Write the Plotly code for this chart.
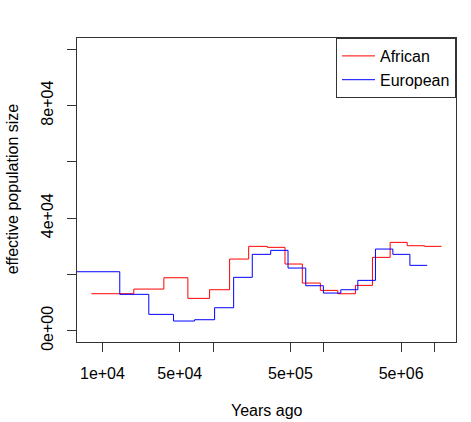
import plotly.graph_objects as go

# step breakpoints (years ago) and effective population size per interval
african_breaks = [7955, 19200, 35880, 59140, 92960, 141000, 209600, 308800, 446400,
                  640200, 931600, 1339000, 1932000, 2754000, 3980000, 5673000,
                  8136000, 11600000]
african_ne = [13150, 14800, 18830, 11500, 14570, 25470, 29980, 29630, 23700,
              16940, 14340, 13140, 16120, 26070, 31400, 30200, 29980]

european_breaks = [4000, 14340, 26240, 43900, 68000, 103200, 153300, 225900, 331500,
                   475300, 687200, 991700, 1425000, 2031000, 2931000, 4210000,
                   6002000, 8607000]
european_ne = [20960, 12930, 5820, 3450, 3910, 8170, 18970, 27140, 28560,
               22270, 15990, 13390, 14570, 17900, 29020, 27140, 23230]

x_tickvals = [1e4, 5e4, 1e5, 5e5, 1e6, 5e6, 1e7]
x_ticktext = ["1e+04", "5e+04", "", "5e+05", "", "5e+06", ""]
y_tickvals = [0, 2e4, 4e4, 6e4, 8e4, 1e5]
y_ticktext = ["0e+00", "", "4e+04", "", "8e+04", ""]


def step_trace(breaks, values, name, color, group):
    # hv steps: repeat the last value so the final interval is drawn
    return go.Scatter(
        x=breaks, y=values + [values[-1]], mode="lines", name=name,
        line=dict(color=color, width=1, shape="hv"), legendgroup=group,
    )


fig = go.Figure()
fig.add_trace(step_trace(african_breaks, african_ne, "African", "#FF0000", "a"))
fig.add_trace(step_trace(european_breaks, european_ne, "European", "#0000FF", "b"))

axis_style = dict(
    showline=True, linecolor="#333333", linewidth=1, mirror=True,
    showgrid=False, zeroline=False, ticks="outside", ticklen=9,
    tickcolor="#333333", tickfont=dict(size=16, color="black"),
    automargin=False,
)

fig.update_layout(
    width=471, height=422,
    margin=dict(l=77, r=15, t=38, b=80),
    paper_bgcolor="white", plot_bgcolor="white",
    font=dict(family="Liberation Sans, Arial, sans-serif", size=16, color="black"),
    xaxis=dict(type="log", range=[3.770, 7.195], tickvals=x_tickvals,
               ticktext=x_ticktext, ticklabelstandoff=8, **axis_style),
    yaxis=dict(range=[-4000, 104000], tickvals=y_tickvals, ticktext=y_ticktext,
               tickangle=-90, ticklabelstandoff=8, **axis_style),
    legend=dict(x=1, y=1, xanchor="right", yanchor="top", bordercolor="#333333",
                borderwidth=1, bgcolor="white", font=dict(size=16),
                itemwidth=33, entrywidth=84, entrywidthmode="pixels",
                tracegroupgap=0),
    showlegend=True,
    annotations=[
        dict(text="Years ago", xref="paper", yref="paper", x=0.5, y=-0.224,
             xanchor="center", yanchor="middle", showarrow=False),
        dict(text="effective population size", xref="paper", yref="paper",
             x=-0.171, y=0.503, xanchor="center", yanchor="middle",
             textangle=-90, showarrow=False),
    ],
)

# drop the default page margin so the figure sits at the window's corner
fig.write_html("out.html", config={"displayModeBar": False},
               post_script="document.body.style.margin='0px';")
